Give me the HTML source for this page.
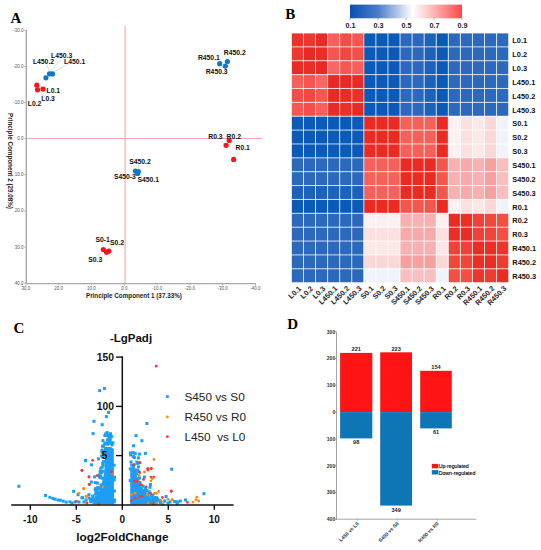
<!DOCTYPE html>
<html><head><meta charset="utf-8"><style>
html,body{margin:0;padding:0;background:#fff;}
svg{display:block;}
</style></head><body>
<svg width="541" height="550" viewBox="0 0 541 550">
<rect width="541" height="550" fill="#fff"/>
<text x="10.5" y="23" font-family="Liberation Serif, serif" font-weight="bold" font-size="15" fill="#000">A</text>
<line x1="26" y1="138.5" x2="262.6" y2="138.5" stroke="#f5a5b2" stroke-width="1.1"/>
<line x1="125.1" y1="26" x2="125.1" y2="283.6" stroke="#f5a5b2" stroke-width="1.1"/>
<line x1="26.3" y1="30" x2="26.3" y2="284" stroke="#a8a8a8" stroke-width="1.4"/>
<line x1="26" y1="283.6" x2="256" y2="283.6" stroke="#a8a8a8" stroke-width="1.4"/>
<line x1="24" y1="30.4" x2="26.2" y2="30.4" stroke="#999" stroke-width="0.6"/>
<text x="23.5" y="31.9" font-family="Liberation Sans, sans-serif" font-size="4.5" fill="#555" text-anchor="end">-30.0</text>
<line x1="24" y1="66.5" x2="26.2" y2="66.5" stroke="#999" stroke-width="0.6"/>
<text x="23.5" y="68.0" font-family="Liberation Sans, sans-serif" font-size="4.5" fill="#555" text-anchor="end">-20.0</text>
<line x1="24" y1="102.6" x2="26.2" y2="102.6" stroke="#999" stroke-width="0.6"/>
<text x="23.5" y="104.1" font-family="Liberation Sans, sans-serif" font-size="4.5" fill="#555" text-anchor="end">-10.0</text>
<line x1="24" y1="138.7" x2="26.2" y2="138.7" stroke="#999" stroke-width="0.6"/>
<text x="23.5" y="140.2" font-family="Liberation Sans, sans-serif" font-size="4.5" fill="#555" text-anchor="end">0.0</text>
<line x1="24" y1="174.8" x2="26.2" y2="174.8" stroke="#999" stroke-width="0.6"/>
<text x="23.5" y="176.3" font-family="Liberation Sans, sans-serif" font-size="4.5" fill="#555" text-anchor="end">10.0</text>
<line x1="24" y1="210.9" x2="26.2" y2="210.9" stroke="#999" stroke-width="0.6"/>
<text x="23.5" y="212.4" font-family="Liberation Sans, sans-serif" font-size="4.5" fill="#555" text-anchor="end">20.0</text>
<line x1="24" y1="247.0" x2="26.2" y2="247.0" stroke="#999" stroke-width="0.6"/>
<text x="23.5" y="248.5" font-family="Liberation Sans, sans-serif" font-size="4.5" fill="#555" text-anchor="end">30.0</text>
<line x1="24" y1="283.1" x2="26.2" y2="283.1" stroke="#999" stroke-width="0.6"/>
<text x="23.5" y="284.6" font-family="Liberation Sans, sans-serif" font-size="4.5" fill="#555" text-anchor="end">40.0</text>
<line x1="25.9" y1="283.6" x2="25.9" y2="285.6" stroke="#999" stroke-width="0.6"/>
<text x="25.9" y="289.6" font-family="Liberation Sans, sans-serif" font-size="4.5" fill="#555" text-anchor="middle">30.0</text>
<line x1="58.7" y1="283.6" x2="58.7" y2="285.6" stroke="#999" stroke-width="0.6"/>
<text x="58.7" y="289.6" font-family="Liberation Sans, sans-serif" font-size="4.5" fill="#555" text-anchor="middle">20.0</text>
<line x1="91.5" y1="283.6" x2="91.5" y2="285.6" stroke="#999" stroke-width="0.6"/>
<text x="91.5" y="289.6" font-family="Liberation Sans, sans-serif" font-size="4.5" fill="#555" text-anchor="middle">10.0</text>
<line x1="124.3" y1="283.6" x2="124.3" y2="285.6" stroke="#999" stroke-width="0.6"/>
<text x="124.3" y="289.6" font-family="Liberation Sans, sans-serif" font-size="4.5" fill="#555" text-anchor="middle">0.0</text>
<line x1="157.1" y1="283.6" x2="157.1" y2="285.6" stroke="#999" stroke-width="0.6"/>
<text x="157.1" y="289.6" font-family="Liberation Sans, sans-serif" font-size="4.5" fill="#555" text-anchor="middle">-10.0</text>
<line x1="189.9" y1="283.6" x2="189.9" y2="285.6" stroke="#999" stroke-width="0.6"/>
<text x="189.9" y="289.6" font-family="Liberation Sans, sans-serif" font-size="4.5" fill="#555" text-anchor="middle">-20.0</text>
<line x1="222.7" y1="283.6" x2="222.7" y2="285.6" stroke="#999" stroke-width="0.6"/>
<text x="222.7" y="289.6" font-family="Liberation Sans, sans-serif" font-size="4.5" fill="#555" text-anchor="middle">-30.0</text>
<line x1="255.5" y1="283.6" x2="255.5" y2="285.6" stroke="#999" stroke-width="0.6"/>
<text x="255.5" y="289.6" font-family="Liberation Sans, sans-serif" font-size="4.5" fill="#555" text-anchor="middle">-40.0</text>
<text x="133.9" y="297.8" font-family="Liberation Sans, sans-serif" font-weight="bold" font-size="6.3" fill="#222" text-anchor="middle">Principle Component 1 (37.33%)</text>
<text transform="translate(7.6,161) rotate(90)" font-family="Liberation Sans, sans-serif" font-weight="bold" font-size="6.3" fill="#222" text-anchor="middle">Principle Component 2 (29.08%)</text>
<line x1="45" y1="60" x2="49.5" y2="72" stroke="#c8d4dc" stroke-width="0.7"/>
<line x1="62" y1="58" x2="50" y2="72" stroke="#c8d4dc" stroke-width="0.7"/>
<line x1="70" y1="63" x2="52" y2="73" stroke="#c8d4dc" stroke-width="0.7"/>
<line x1="48" y1="91" x2="43" y2="89" stroke="#c8d4dc" stroke-width="0.7"/>
<line x1="45" y1="97" x2="38" y2="90" stroke="#c8d4dc" stroke-width="0.7"/>
<line x1="33" y1="101" x2="37" y2="90" stroke="#c8d4dc" stroke-width="0.7"/>
<line x1="215" y1="59" x2="219" y2="63" stroke="#c8d4dc" stroke-width="0.7"/>
<line x1="230" y1="56" x2="227" y2="61" stroke="#c8d4dc" stroke-width="0.7"/>
<line x1="220" y1="68" x2="225" y2="66" stroke="#c8d4dc" stroke-width="0.7"/>
<line x1="220" y1="139" x2="226" y2="145" stroke="#c8d4dc" stroke-width="0.7"/>
<line x1="231" y1="139" x2="229" y2="140" stroke="#c8d4dc" stroke-width="0.7"/>
<line x1="240" y1="150" x2="233.6" y2="159" stroke="#c8d4dc" stroke-width="0.7"/>
<line x1="139" y1="164" x2="138" y2="171" stroke="#c8d4dc" stroke-width="0.7"/>
<line x1="130" y1="176" x2="135" y2="172" stroke="#c8d4dc" stroke-width="0.7"/>
<line x1="142" y1="177" x2="138" y2="173" stroke="#c8d4dc" stroke-width="0.7"/>
<line x1="102" y1="242" x2="104" y2="249" stroke="#c8d4dc" stroke-width="0.7"/>
<line x1="113" y1="245" x2="108" y2="251" stroke="#c8d4dc" stroke-width="0.7"/>
<line x1="97" y1="257" x2="103" y2="251" stroke="#c8d4dc" stroke-width="0.7"/>
<circle cx="45.9" cy="77.8" r="2.6" fill="#0e78c6"/>
<circle cx="49.5" cy="73.8" r="2.6" fill="#0e78c6"/>
<circle cx="52.5" cy="73.9" r="2.6" fill="#0e78c6"/>
<circle cx="36.8" cy="85.2" r="2.6" fill="#f8141a"/>
<circle cx="37.5" cy="89.8" r="2.6" fill="#f8141a"/>
<circle cx="43" cy="89.1" r="2.6" fill="#f8141a"/>
<circle cx="219.7" cy="63.7" r="2.6" fill="#0e78c6"/>
<circle cx="227.4" cy="61.5" r="2.6" fill="#0e78c6"/>
<circle cx="225.4" cy="66.1" r="2.6" fill="#0e78c6"/>
<circle cx="229.2" cy="140.5" r="2.6" fill="#f8141a"/>
<circle cx="226.1" cy="145.3" r="2.6" fill="#f8141a"/>
<circle cx="233.6" cy="159.4" r="2.6" fill="#f8141a"/>
<circle cx="135.5" cy="171.1" r="2.6" fill="#0e78c6"/>
<circle cx="138.3" cy="171.6" r="2.6" fill="#0e78c6"/>
<circle cx="137.7" cy="173.4" r="2.6" fill="#0e78c6"/>
<circle cx="103.3" cy="249.6" r="2.6" fill="#f8141a"/>
<circle cx="106.6" cy="252.2" r="2.6" fill="#f8141a"/>
<circle cx="108.8" cy="251.1" r="2.6" fill="#f8141a"/>
<text x="32.9" y="64.2" font-family="Liberation Sans, sans-serif" font-weight="bold" font-size="6.8" fill="#111">L450.2</text>
<text x="51" y="58.4" font-family="Liberation Sans, sans-serif" font-weight="bold" font-size="6.8" fill="#111">L450.3</text>
<text x="64" y="64" font-family="Liberation Sans, sans-serif" font-weight="bold" font-size="6.8" fill="#111">L450.1</text>
<text x="46.5" y="93.3" font-family="Liberation Sans, sans-serif" font-weight="bold" font-size="6.8" fill="#111">L0.1</text>
<text x="41.3" y="101.1" font-family="Liberation Sans, sans-serif" font-weight="bold" font-size="6.8" fill="#111">L0.3</text>
<text x="27.8" y="106.3" font-family="Liberation Sans, sans-serif" font-weight="bold" font-size="6.8" fill="#111">L0.2</text>
<text x="197.9" y="59.6" font-family="Liberation Sans, sans-serif" font-weight="bold" font-size="6.8" fill="#111">R450.1</text>
<text x="223.8" y="55.1" font-family="Liberation Sans, sans-serif" font-weight="bold" font-size="6.8" fill="#111">R450.2</text>
<text x="205.7" y="73.8" font-family="Liberation Sans, sans-serif" font-weight="bold" font-size="6.8" fill="#111">R450.3</text>
<text x="208.3" y="139.4" font-family="Liberation Sans, sans-serif" font-weight="bold" font-size="6.8" fill="#111">R0.3</text>
<text x="226.6" y="139" font-family="Liberation Sans, sans-serif" font-weight="bold" font-size="6.8" fill="#111">R0.2</text>
<text x="235.5" y="149.7" font-family="Liberation Sans, sans-serif" font-weight="bold" font-size="6.8" fill="#111">R0.1</text>
<text x="129.2" y="164.1" font-family="Liberation Sans, sans-serif" font-weight="bold" font-size="6.8" fill="#111">S450.2</text>
<text x="113.9" y="179.4" font-family="Liberation Sans, sans-serif" font-weight="bold" font-size="6.8" fill="#111">S450-3</text>
<text x="137.4" y="181.6" font-family="Liberation Sans, sans-serif" font-weight="bold" font-size="6.8" fill="#111">S450.1</text>
<text x="95.5" y="241.6" font-family="Liberation Sans, sans-serif" font-weight="bold" font-size="6.8" fill="#111">S0-1</text>
<text x="110" y="245.2" font-family="Liberation Sans, sans-serif" font-weight="bold" font-size="6.8" fill="#111">S0.2</text>
<text x="88.3" y="262.2" font-family="Liberation Sans, sans-serif" font-weight="bold" font-size="6.8" fill="#111">S0.3</text>
<text x="285.3" y="19" font-family="Liberation Serif, serif" font-weight="bold" font-size="15" fill="#000">B</text>
<defs><linearGradient id="cb" x1="0" x2="1" y1="0" y2="0"><stop offset="0" stop-color="#0a4fb8"/><stop offset="0.25" stop-color="#4b7cc8"/><stop offset="0.5" stop-color="#dfe6f4"/><stop offset="0.56" stop-color="#ffffff"/><stop offset="0.75" stop-color="#fdb4b4"/><stop offset="1" stop-color="#ff4747"/></linearGradient></defs>
<rect x="350" y="4.6" width="112" height="13.7" fill="url(#cb)"/>
<line x1="350" y1="18.3" x2="350" y2="20.2" stroke="#777" stroke-width="0.6"/>
<text x="350.5" y="28.1" font-family="Liberation Sans, sans-serif" font-weight="bold" font-size="7.2" fill="#222" text-anchor="middle">0.1</text>
<line x1="378" y1="18.3" x2="378" y2="20.2" stroke="#777" stroke-width="0.6"/>
<text x="378.5" y="28.1" font-family="Liberation Sans, sans-serif" font-weight="bold" font-size="7.2" fill="#222" text-anchor="middle">0.3</text>
<line x1="406" y1="18.3" x2="406" y2="20.2" stroke="#777" stroke-width="0.6"/>
<text x="406.5" y="28.1" font-family="Liberation Sans, sans-serif" font-weight="bold" font-size="7.2" fill="#222" text-anchor="middle">0.5</text>
<line x1="434" y1="18.3" x2="434" y2="20.2" stroke="#777" stroke-width="0.6"/>
<text x="434.5" y="28.1" font-family="Liberation Sans, sans-serif" font-weight="bold" font-size="7.2" fill="#222" text-anchor="middle">0.7</text>
<line x1="462" y1="18.3" x2="462" y2="20.2" stroke="#777" stroke-width="0.6"/>
<text x="462.5" y="28.1" font-family="Liberation Sans, sans-serif" font-weight="bold" font-size="7.2" fill="#222" text-anchor="middle">0.9</text>
<rect x="291.4" y="33.0" width="217.26" height="249.66" fill="#fff"/>
<rect x="291.40" y="33.00" width="12.12" height="13.92" fill="#ec322a"/>
<rect x="303.47" y="33.00" width="12.12" height="13.92" fill="#ed3733"/>
<rect x="315.54" y="33.00" width="12.12" height="13.92" fill="#e92b27"/>
<rect x="327.61" y="33.00" width="12.12" height="13.92" fill="#f65f5b"/>
<rect x="339.68" y="33.00" width="12.12" height="13.92" fill="#f34d49"/>
<rect x="351.75" y="33.00" width="12.12" height="13.92" fill="#f55753"/>
<rect x="363.82" y="33.00" width="12.12" height="13.92" fill="#0b5ab8"/>
<rect x="375.89" y="33.00" width="12.12" height="13.92" fill="#0b5ab8"/>
<rect x="387.96" y="33.00" width="12.12" height="13.92" fill="#0b5ab8"/>
<rect x="400.03" y="33.00" width="12.12" height="13.92" fill="#2c69bc"/>
<rect x="412.10" y="33.00" width="12.12" height="13.92" fill="#2c69bc"/>
<rect x="424.17" y="33.00" width="12.12" height="13.92" fill="#1c61ba"/>
<rect x="436.24" y="33.00" width="12.12" height="13.92" fill="#0b5ab8"/>
<rect x="448.31" y="33.00" width="12.12" height="13.92" fill="#2c69bc"/>
<rect x="460.38" y="33.00" width="12.12" height="13.92" fill="#2c69bc"/>
<rect x="472.45" y="33.00" width="12.12" height="13.92" fill="#2c69bc"/>
<rect x="484.52" y="33.00" width="12.12" height="13.92" fill="#2c69bc"/>
<rect x="496.59" y="33.00" width="12.12" height="13.92" fill="#2c69bc"/>
<rect x="291.40" y="46.87" width="12.12" height="13.92" fill="#ed3733"/>
<rect x="303.47" y="46.87" width="12.12" height="13.92" fill="#e92923"/>
<rect x="315.54" y="46.87" width="12.12" height="13.92" fill="#ea2d29"/>
<rect x="327.61" y="46.87" width="12.12" height="13.92" fill="#f55450"/>
<rect x="339.68" y="46.87" width="12.12" height="13.92" fill="#f14743"/>
<rect x="351.75" y="46.87" width="12.12" height="13.92" fill="#f34e4a"/>
<rect x="363.82" y="46.87" width="12.12" height="13.92" fill="#0b5ab8"/>
<rect x="375.89" y="46.87" width="12.12" height="13.92" fill="#0b5ab8"/>
<rect x="387.96" y="46.87" width="12.12" height="13.92" fill="#0b5ab8"/>
<rect x="400.03" y="46.87" width="12.12" height="13.92" fill="#2c69bc"/>
<rect x="412.10" y="46.87" width="12.12" height="13.92" fill="#2c69bc"/>
<rect x="424.17" y="46.87" width="12.12" height="13.92" fill="#1c61ba"/>
<rect x="436.24" y="46.87" width="12.12" height="13.92" fill="#0b5ab8"/>
<rect x="448.31" y="46.87" width="12.12" height="13.92" fill="#2c69bc"/>
<rect x="460.38" y="46.87" width="12.12" height="13.92" fill="#2c69bc"/>
<rect x="472.45" y="46.87" width="12.12" height="13.92" fill="#2c69bc"/>
<rect x="484.52" y="46.87" width="12.12" height="13.92" fill="#2c69bc"/>
<rect x="496.59" y="46.87" width="12.12" height="13.92" fill="#2c69bc"/>
<rect x="291.40" y="60.74" width="12.12" height="13.92" fill="#e92b27"/>
<rect x="303.47" y="60.74" width="12.12" height="13.92" fill="#ea2d29"/>
<rect x="315.54" y="60.74" width="12.12" height="13.92" fill="#e92923"/>
<rect x="327.61" y="60.74" width="12.12" height="13.92" fill="#f86763"/>
<rect x="339.68" y="60.74" width="12.12" height="13.92" fill="#f55753"/>
<rect x="351.75" y="60.74" width="12.12" height="13.92" fill="#f65f5b"/>
<rect x="363.82" y="60.74" width="12.12" height="13.92" fill="#0b5ab8"/>
<rect x="375.89" y="60.74" width="12.12" height="13.92" fill="#0b5ab8"/>
<rect x="387.96" y="60.74" width="12.12" height="13.92" fill="#0b5ab8"/>
<rect x="400.03" y="60.74" width="12.12" height="13.92" fill="#2c69bc"/>
<rect x="412.10" y="60.74" width="12.12" height="13.92" fill="#2c69bc"/>
<rect x="424.17" y="60.74" width="12.12" height="13.92" fill="#1c61ba"/>
<rect x="436.24" y="60.74" width="12.12" height="13.92" fill="#0b5ab8"/>
<rect x="448.31" y="60.74" width="12.12" height="13.92" fill="#2c69bc"/>
<rect x="460.38" y="60.74" width="12.12" height="13.92" fill="#2c69bc"/>
<rect x="472.45" y="60.74" width="12.12" height="13.92" fill="#2c69bc"/>
<rect x="484.52" y="60.74" width="12.12" height="13.92" fill="#2c69bc"/>
<rect x="496.59" y="60.74" width="12.12" height="13.92" fill="#2c69bc"/>
<rect x="291.40" y="74.61" width="12.12" height="13.92" fill="#f65f5b"/>
<rect x="303.47" y="74.61" width="12.12" height="13.92" fill="#f55450"/>
<rect x="315.54" y="74.61" width="12.12" height="13.92" fill="#f86763"/>
<rect x="327.61" y="74.61" width="12.12" height="13.92" fill="#e92923"/>
<rect x="339.68" y="74.61" width="12.12" height="13.92" fill="#e92925"/>
<rect x="351.75" y="74.61" width="12.12" height="13.92" fill="#e92b27"/>
<rect x="363.82" y="74.61" width="12.12" height="13.92" fill="#0b5ab8"/>
<rect x="375.89" y="74.61" width="12.12" height="13.92" fill="#0b5ab8"/>
<rect x="387.96" y="74.61" width="12.12" height="13.92" fill="#0b5ab8"/>
<rect x="400.03" y="74.61" width="12.12" height="13.92" fill="#2c69bc"/>
<rect x="412.10" y="74.61" width="12.12" height="13.92" fill="#2c69bc"/>
<rect x="424.17" y="74.61" width="12.12" height="13.92" fill="#1c61ba"/>
<rect x="436.24" y="74.61" width="12.12" height="13.92" fill="#0b5ab8"/>
<rect x="448.31" y="74.61" width="12.12" height="13.92" fill="#2c69bc"/>
<rect x="460.38" y="74.61" width="12.12" height="13.92" fill="#2c69bc"/>
<rect x="472.45" y="74.61" width="12.12" height="13.92" fill="#2c69bc"/>
<rect x="484.52" y="74.61" width="12.12" height="13.92" fill="#2c69bc"/>
<rect x="496.59" y="74.61" width="12.12" height="13.92" fill="#2c69bc"/>
<rect x="291.40" y="88.48" width="12.12" height="13.92" fill="#f34d49"/>
<rect x="303.47" y="88.48" width="12.12" height="13.92" fill="#f14743"/>
<rect x="315.54" y="88.48" width="12.12" height="13.92" fill="#f55753"/>
<rect x="327.61" y="88.48" width="12.12" height="13.92" fill="#e92925"/>
<rect x="339.68" y="88.48" width="12.12" height="13.92" fill="#ea2b27"/>
<rect x="351.75" y="88.48" width="12.12" height="13.92" fill="#eb2f2b"/>
<rect x="363.82" y="88.48" width="12.12" height="13.92" fill="#0b5ab8"/>
<rect x="375.89" y="88.48" width="12.12" height="13.92" fill="#0b5ab8"/>
<rect x="387.96" y="88.48" width="12.12" height="13.92" fill="#0b5ab8"/>
<rect x="400.03" y="88.48" width="12.12" height="13.92" fill="#2c69bc"/>
<rect x="412.10" y="88.48" width="12.12" height="13.92" fill="#2c69bc"/>
<rect x="424.17" y="88.48" width="12.12" height="13.92" fill="#1c61ba"/>
<rect x="436.24" y="88.48" width="12.12" height="13.92" fill="#0b5ab8"/>
<rect x="448.31" y="88.48" width="12.12" height="13.92" fill="#2c69bc"/>
<rect x="460.38" y="88.48" width="12.12" height="13.92" fill="#2c69bc"/>
<rect x="472.45" y="88.48" width="12.12" height="13.92" fill="#2c69bc"/>
<rect x="484.52" y="88.48" width="12.12" height="13.92" fill="#2c69bc"/>
<rect x="496.59" y="88.48" width="12.12" height="13.92" fill="#2c69bc"/>
<rect x="291.40" y="102.35" width="12.12" height="13.92" fill="#f55753"/>
<rect x="303.47" y="102.35" width="12.12" height="13.92" fill="#f34e4a"/>
<rect x="315.54" y="102.35" width="12.12" height="13.92" fill="#f65f5b"/>
<rect x="327.61" y="102.35" width="12.12" height="13.92" fill="#e92b27"/>
<rect x="339.68" y="102.35" width="12.12" height="13.92" fill="#eb2f2b"/>
<rect x="351.75" y="102.35" width="12.12" height="13.92" fill="#e92923"/>
<rect x="363.82" y="102.35" width="12.12" height="13.92" fill="#0b5ab8"/>
<rect x="375.89" y="102.35" width="12.12" height="13.92" fill="#0b5ab8"/>
<rect x="387.96" y="102.35" width="12.12" height="13.92" fill="#0b5ab8"/>
<rect x="400.03" y="102.35" width="12.12" height="13.92" fill="#2c69bc"/>
<rect x="412.10" y="102.35" width="12.12" height="13.92" fill="#2c69bc"/>
<rect x="424.17" y="102.35" width="12.12" height="13.92" fill="#1c61ba"/>
<rect x="436.24" y="102.35" width="12.12" height="13.92" fill="#0b5ab8"/>
<rect x="448.31" y="102.35" width="12.12" height="13.92" fill="#2c69bc"/>
<rect x="460.38" y="102.35" width="12.12" height="13.92" fill="#2c69bc"/>
<rect x="472.45" y="102.35" width="12.12" height="13.92" fill="#2c69bc"/>
<rect x="484.52" y="102.35" width="12.12" height="13.92" fill="#2c69bc"/>
<rect x="496.59" y="102.35" width="12.12" height="13.92" fill="#2c69bc"/>
<rect x="291.40" y="116.22" width="12.12" height="13.92" fill="#0b5ab8"/>
<rect x="303.47" y="116.22" width="12.12" height="13.92" fill="#0b5ab8"/>
<rect x="315.54" y="116.22" width="12.12" height="13.92" fill="#0b5ab8"/>
<rect x="327.61" y="116.22" width="12.12" height="13.92" fill="#0b5ab8"/>
<rect x="339.68" y="116.22" width="12.12" height="13.92" fill="#0b5ab8"/>
<rect x="351.75" y="116.22" width="12.12" height="13.92" fill="#0b5ab8"/>
<rect x="363.82" y="116.22" width="12.12" height="13.92" fill="#eb2a22"/>
<rect x="375.89" y="116.22" width="12.12" height="13.92" fill="#eb2a22"/>
<rect x="387.96" y="116.22" width="12.12" height="13.92" fill="#eb2a22"/>
<rect x="400.03" y="116.22" width="12.12" height="13.92" fill="#f56158"/>
<rect x="412.10" y="116.22" width="12.12" height="13.92" fill="#f56158"/>
<rect x="424.17" y="116.22" width="12.12" height="13.92" fill="#f56158"/>
<rect x="436.24" y="116.22" width="12.12" height="13.92" fill="#eb2a22"/>
<rect x="448.31" y="116.22" width="12.12" height="13.92" fill="#fdf0f0"/>
<rect x="460.38" y="116.22" width="12.12" height="13.92" fill="#fce0e0"/>
<rect x="472.45" y="116.22" width="12.12" height="13.92" fill="#fde8e8"/>
<rect x="484.52" y="116.22" width="12.12" height="13.92" fill="#fbd8d8"/>
<rect x="496.59" y="116.22" width="12.12" height="13.92" fill="#f0f4fa"/>
<rect x="291.40" y="130.09" width="12.12" height="13.92" fill="#0b5ab8"/>
<rect x="303.47" y="130.09" width="12.12" height="13.92" fill="#0b5ab8"/>
<rect x="315.54" y="130.09" width="12.12" height="13.92" fill="#0b5ab8"/>
<rect x="327.61" y="130.09" width="12.12" height="13.92" fill="#0b5ab8"/>
<rect x="339.68" y="130.09" width="12.12" height="13.92" fill="#0b5ab8"/>
<rect x="351.75" y="130.09" width="12.12" height="13.92" fill="#0b5ab8"/>
<rect x="363.82" y="130.09" width="12.12" height="13.92" fill="#eb2a22"/>
<rect x="375.89" y="130.09" width="12.12" height="13.92" fill="#eb2a22"/>
<rect x="387.96" y="130.09" width="12.12" height="13.92" fill="#eb2a22"/>
<rect x="400.03" y="130.09" width="12.12" height="13.92" fill="#f56158"/>
<rect x="412.10" y="130.09" width="12.12" height="13.92" fill="#f56158"/>
<rect x="424.17" y="130.09" width="12.12" height="13.92" fill="#f56158"/>
<rect x="436.24" y="130.09" width="12.12" height="13.92" fill="#eb2a22"/>
<rect x="448.31" y="130.09" width="12.12" height="13.92" fill="#fdf0f0"/>
<rect x="460.38" y="130.09" width="12.12" height="13.92" fill="#fce0e0"/>
<rect x="472.45" y="130.09" width="12.12" height="13.92" fill="#fde8e8"/>
<rect x="484.52" y="130.09" width="12.12" height="13.92" fill="#fbd8d8"/>
<rect x="496.59" y="130.09" width="12.12" height="13.92" fill="#f0f4fa"/>
<rect x="291.40" y="143.96" width="12.12" height="13.92" fill="#0b5ab8"/>
<rect x="303.47" y="143.96" width="12.12" height="13.92" fill="#0b5ab8"/>
<rect x="315.54" y="143.96" width="12.12" height="13.92" fill="#0b5ab8"/>
<rect x="327.61" y="143.96" width="12.12" height="13.92" fill="#0b5ab8"/>
<rect x="339.68" y="143.96" width="12.12" height="13.92" fill="#0b5ab8"/>
<rect x="351.75" y="143.96" width="12.12" height="13.92" fill="#0b5ab8"/>
<rect x="363.82" y="143.96" width="12.12" height="13.92" fill="#eb2a22"/>
<rect x="375.89" y="143.96" width="12.12" height="13.92" fill="#eb2a22"/>
<rect x="387.96" y="143.96" width="12.12" height="13.92" fill="#eb2a22"/>
<rect x="400.03" y="143.96" width="12.12" height="13.92" fill="#f56158"/>
<rect x="412.10" y="143.96" width="12.12" height="13.92" fill="#f56158"/>
<rect x="424.17" y="143.96" width="12.12" height="13.92" fill="#f56158"/>
<rect x="436.24" y="143.96" width="12.12" height="13.92" fill="#eb2a22"/>
<rect x="448.31" y="143.96" width="12.12" height="13.92" fill="#fdf0f0"/>
<rect x="460.38" y="143.96" width="12.12" height="13.92" fill="#fce0e0"/>
<rect x="472.45" y="143.96" width="12.12" height="13.92" fill="#fde8e8"/>
<rect x="484.52" y="143.96" width="12.12" height="13.92" fill="#fbd8d8"/>
<rect x="496.59" y="143.96" width="12.12" height="13.92" fill="#f0f4fa"/>
<rect x="291.40" y="157.83" width="12.12" height="13.92" fill="#2c69bc"/>
<rect x="303.47" y="157.83" width="12.12" height="13.92" fill="#2c69bc"/>
<rect x="315.54" y="157.83" width="12.12" height="13.92" fill="#2c69bc"/>
<rect x="327.61" y="157.83" width="12.12" height="13.92" fill="#2c69bc"/>
<rect x="339.68" y="157.83" width="12.12" height="13.92" fill="#2c69bc"/>
<rect x="351.75" y="157.83" width="12.12" height="13.92" fill="#2c69bc"/>
<rect x="363.82" y="157.83" width="12.12" height="13.92" fill="#f56158"/>
<rect x="375.89" y="157.83" width="12.12" height="13.92" fill="#f56158"/>
<rect x="387.96" y="157.83" width="12.12" height="13.92" fill="#f56158"/>
<rect x="400.03" y="157.83" width="12.12" height="13.92" fill="#eb2a22"/>
<rect x="412.10" y="157.83" width="12.12" height="13.92" fill="#eb2a22"/>
<rect x="424.17" y="157.83" width="12.12" height="13.92" fill="#eb2a22"/>
<rect x="436.24" y="157.83" width="12.12" height="13.92" fill="#f3574b"/>
<rect x="448.31" y="157.83" width="12.12" height="13.92" fill="#f8b0b0"/>
<rect x="460.38" y="157.83" width="12.12" height="13.92" fill="#f8a9a9"/>
<rect x="472.45" y="157.83" width="12.12" height="13.92" fill="#f8b0b0"/>
<rect x="484.52" y="157.83" width="12.12" height="13.92" fill="#f7a0a0"/>
<rect x="496.59" y="157.83" width="12.12" height="13.92" fill="#f9bfbf"/>
<rect x="291.40" y="171.70" width="12.12" height="13.92" fill="#2c69bc"/>
<rect x="303.47" y="171.70" width="12.12" height="13.92" fill="#2c69bc"/>
<rect x="315.54" y="171.70" width="12.12" height="13.92" fill="#2c69bc"/>
<rect x="327.61" y="171.70" width="12.12" height="13.92" fill="#2c69bc"/>
<rect x="339.68" y="171.70" width="12.12" height="13.92" fill="#2c69bc"/>
<rect x="351.75" y="171.70" width="12.12" height="13.92" fill="#2c69bc"/>
<rect x="363.82" y="171.70" width="12.12" height="13.92" fill="#f56158"/>
<rect x="375.89" y="171.70" width="12.12" height="13.92" fill="#f56158"/>
<rect x="387.96" y="171.70" width="12.12" height="13.92" fill="#f56158"/>
<rect x="400.03" y="171.70" width="12.12" height="13.92" fill="#eb2a22"/>
<rect x="412.10" y="171.70" width="12.12" height="13.92" fill="#eb2a22"/>
<rect x="424.17" y="171.70" width="12.12" height="13.92" fill="#eb2a22"/>
<rect x="436.24" y="171.70" width="12.12" height="13.92" fill="#f3574b"/>
<rect x="448.31" y="171.70" width="12.12" height="13.92" fill="#f8b0b0"/>
<rect x="460.38" y="171.70" width="12.12" height="13.92" fill="#f8a9a9"/>
<rect x="472.45" y="171.70" width="12.12" height="13.92" fill="#f8b0b0"/>
<rect x="484.52" y="171.70" width="12.12" height="13.92" fill="#f7a0a0"/>
<rect x="496.59" y="171.70" width="12.12" height="13.92" fill="#f9bfbf"/>
<rect x="291.40" y="185.57" width="12.12" height="13.92" fill="#1c61ba"/>
<rect x="303.47" y="185.57" width="12.12" height="13.92" fill="#1c61ba"/>
<rect x="315.54" y="185.57" width="12.12" height="13.92" fill="#1c61ba"/>
<rect x="327.61" y="185.57" width="12.12" height="13.92" fill="#1c61ba"/>
<rect x="339.68" y="185.57" width="12.12" height="13.92" fill="#1c61ba"/>
<rect x="351.75" y="185.57" width="12.12" height="13.92" fill="#1c61ba"/>
<rect x="363.82" y="185.57" width="12.12" height="13.92" fill="#f56158"/>
<rect x="375.89" y="185.57" width="12.12" height="13.92" fill="#f56158"/>
<rect x="387.96" y="185.57" width="12.12" height="13.92" fill="#f56158"/>
<rect x="400.03" y="185.57" width="12.12" height="13.92" fill="#eb2a22"/>
<rect x="412.10" y="185.57" width="12.12" height="13.92" fill="#eb2a22"/>
<rect x="424.17" y="185.57" width="12.12" height="13.92" fill="#eb2a22"/>
<rect x="436.24" y="185.57" width="12.12" height="13.92" fill="#f3574b"/>
<rect x="448.31" y="185.57" width="12.12" height="13.92" fill="#f8b0b0"/>
<rect x="460.38" y="185.57" width="12.12" height="13.92" fill="#f8a9a9"/>
<rect x="472.45" y="185.57" width="12.12" height="13.92" fill="#f8b0b0"/>
<rect x="484.52" y="185.57" width="12.12" height="13.92" fill="#f7a0a0"/>
<rect x="496.59" y="185.57" width="12.12" height="13.92" fill="#f9bfbf"/>
<rect x="291.40" y="199.44" width="12.12" height="13.92" fill="#0b5ab8"/>
<rect x="303.47" y="199.44" width="12.12" height="13.92" fill="#0b5ab8"/>
<rect x="315.54" y="199.44" width="12.12" height="13.92" fill="#0b5ab8"/>
<rect x="327.61" y="199.44" width="12.12" height="13.92" fill="#0b5ab8"/>
<rect x="339.68" y="199.44" width="12.12" height="13.92" fill="#0b5ab8"/>
<rect x="351.75" y="199.44" width="12.12" height="13.92" fill="#0b5ab8"/>
<rect x="363.82" y="199.44" width="12.12" height="13.92" fill="#eb2a22"/>
<rect x="375.89" y="199.44" width="12.12" height="13.92" fill="#eb2a22"/>
<rect x="387.96" y="199.44" width="12.12" height="13.92" fill="#eb2a22"/>
<rect x="400.03" y="199.44" width="12.12" height="13.92" fill="#f3574b"/>
<rect x="412.10" y="199.44" width="12.12" height="13.92" fill="#f3574b"/>
<rect x="424.17" y="199.44" width="12.12" height="13.92" fill="#f3574b"/>
<rect x="436.24" y="199.44" width="12.12" height="13.92" fill="#eb2a22"/>
<rect x="448.31" y="199.44" width="12.12" height="13.92" fill="#fdf0f0"/>
<rect x="460.38" y="199.44" width="12.12" height="13.92" fill="#fce0e0"/>
<rect x="472.45" y="199.44" width="12.12" height="13.92" fill="#fde8e8"/>
<rect x="484.52" y="199.44" width="12.12" height="13.92" fill="#fbd8d8"/>
<rect x="496.59" y="199.44" width="12.12" height="13.92" fill="#f0f4fa"/>
<rect x="291.40" y="213.31" width="12.12" height="13.92" fill="#2c69bc"/>
<rect x="303.47" y="213.31" width="12.12" height="13.92" fill="#2c69bc"/>
<rect x="315.54" y="213.31" width="12.12" height="13.92" fill="#2c69bc"/>
<rect x="327.61" y="213.31" width="12.12" height="13.92" fill="#2c69bc"/>
<rect x="339.68" y="213.31" width="12.12" height="13.92" fill="#2c69bc"/>
<rect x="351.75" y="213.31" width="12.12" height="13.92" fill="#2c69bc"/>
<rect x="363.82" y="213.31" width="12.12" height="13.92" fill="#fdf0f0"/>
<rect x="375.89" y="213.31" width="12.12" height="13.92" fill="#fdf0f0"/>
<rect x="387.96" y="213.31" width="12.12" height="13.92" fill="#fdf0f0"/>
<rect x="400.03" y="213.31" width="12.12" height="13.92" fill="#f8b0b0"/>
<rect x="412.10" y="213.31" width="12.12" height="13.92" fill="#f8b0b0"/>
<rect x="424.17" y="213.31" width="12.12" height="13.92" fill="#f8b0b0"/>
<rect x="436.24" y="213.31" width="12.12" height="13.92" fill="#fdf0f0"/>
<rect x="448.31" y="213.31" width="12.12" height="13.92" fill="#ea2c23"/>
<rect x="460.38" y="213.31" width="12.12" height="13.92" fill="#eb2f25"/>
<rect x="472.45" y="213.31" width="12.12" height="13.92" fill="#f04138"/>
<rect x="484.52" y="213.31" width="12.12" height="13.92" fill="#f1473b"/>
<rect x="496.59" y="213.31" width="12.12" height="13.92" fill="#f34f43"/>
<rect x="291.40" y="227.18" width="12.12" height="13.92" fill="#2c69bc"/>
<rect x="303.47" y="227.18" width="12.12" height="13.92" fill="#2c69bc"/>
<rect x="315.54" y="227.18" width="12.12" height="13.92" fill="#2c69bc"/>
<rect x="327.61" y="227.18" width="12.12" height="13.92" fill="#2c69bc"/>
<rect x="339.68" y="227.18" width="12.12" height="13.92" fill="#2c69bc"/>
<rect x="351.75" y="227.18" width="12.12" height="13.92" fill="#2c69bc"/>
<rect x="363.82" y="227.18" width="12.12" height="13.92" fill="#fce0e0"/>
<rect x="375.89" y="227.18" width="12.12" height="13.92" fill="#fce0e0"/>
<rect x="387.96" y="227.18" width="12.12" height="13.92" fill="#fce0e0"/>
<rect x="400.03" y="227.18" width="12.12" height="13.92" fill="#f8a9a9"/>
<rect x="412.10" y="227.18" width="12.12" height="13.92" fill="#f8a9a9"/>
<rect x="424.17" y="227.18" width="12.12" height="13.92" fill="#f8a9a9"/>
<rect x="436.24" y="227.18" width="12.12" height="13.92" fill="#fce0e0"/>
<rect x="448.31" y="227.18" width="12.12" height="13.92" fill="#eb2f25"/>
<rect x="460.38" y="227.18" width="12.12" height="13.92" fill="#ea2c23"/>
<rect x="472.45" y="227.18" width="12.12" height="13.92" fill="#f04138"/>
<rect x="484.52" y="227.18" width="12.12" height="13.92" fill="#f1453b"/>
<rect x="496.59" y="227.18" width="12.12" height="13.92" fill="#f34f43"/>
<rect x="291.40" y="241.05" width="12.12" height="13.92" fill="#2c69bc"/>
<rect x="303.47" y="241.05" width="12.12" height="13.92" fill="#2c69bc"/>
<rect x="315.54" y="241.05" width="12.12" height="13.92" fill="#2c69bc"/>
<rect x="327.61" y="241.05" width="12.12" height="13.92" fill="#2c69bc"/>
<rect x="339.68" y="241.05" width="12.12" height="13.92" fill="#2c69bc"/>
<rect x="351.75" y="241.05" width="12.12" height="13.92" fill="#2c69bc"/>
<rect x="363.82" y="241.05" width="12.12" height="13.92" fill="#fde8e8"/>
<rect x="375.89" y="241.05" width="12.12" height="13.92" fill="#fde8e8"/>
<rect x="387.96" y="241.05" width="12.12" height="13.92" fill="#fde8e8"/>
<rect x="400.03" y="241.05" width="12.12" height="13.92" fill="#f8b0b0"/>
<rect x="412.10" y="241.05" width="12.12" height="13.92" fill="#f8b0b0"/>
<rect x="424.17" y="241.05" width="12.12" height="13.92" fill="#f8b0b0"/>
<rect x="436.24" y="241.05" width="12.12" height="13.92" fill="#fde8e8"/>
<rect x="448.31" y="241.05" width="12.12" height="13.92" fill="#f04138"/>
<rect x="460.38" y="241.05" width="12.12" height="13.92" fill="#f04138"/>
<rect x="472.45" y="241.05" width="12.12" height="13.92" fill="#ea2c23"/>
<rect x="484.52" y="241.05" width="12.12" height="13.92" fill="#eb2f25"/>
<rect x="496.59" y="241.05" width="12.12" height="13.92" fill="#ed352b"/>
<rect x="291.40" y="254.92" width="12.12" height="13.92" fill="#2c69bc"/>
<rect x="303.47" y="254.92" width="12.12" height="13.92" fill="#2c69bc"/>
<rect x="315.54" y="254.92" width="12.12" height="13.92" fill="#2c69bc"/>
<rect x="327.61" y="254.92" width="12.12" height="13.92" fill="#2c69bc"/>
<rect x="339.68" y="254.92" width="12.12" height="13.92" fill="#2c69bc"/>
<rect x="351.75" y="254.92" width="12.12" height="13.92" fill="#2c69bc"/>
<rect x="363.82" y="254.92" width="12.12" height="13.92" fill="#fbd8d8"/>
<rect x="375.89" y="254.92" width="12.12" height="13.92" fill="#fbd8d8"/>
<rect x="387.96" y="254.92" width="12.12" height="13.92" fill="#fbd8d8"/>
<rect x="400.03" y="254.92" width="12.12" height="13.92" fill="#f7a0a0"/>
<rect x="412.10" y="254.92" width="12.12" height="13.92" fill="#f7a0a0"/>
<rect x="424.17" y="254.92" width="12.12" height="13.92" fill="#f7a0a0"/>
<rect x="436.24" y="254.92" width="12.12" height="13.92" fill="#fbd8d8"/>
<rect x="448.31" y="254.92" width="12.12" height="13.92" fill="#f1473b"/>
<rect x="460.38" y="254.92" width="12.12" height="13.92" fill="#f1453b"/>
<rect x="472.45" y="254.92" width="12.12" height="13.92" fill="#eb2f25"/>
<rect x="484.52" y="254.92" width="12.12" height="13.92" fill="#ea2c23"/>
<rect x="496.59" y="254.92" width="12.12" height="13.92" fill="#ee3c33"/>
<rect x="291.40" y="268.79" width="12.12" height="13.92" fill="#2c69bc"/>
<rect x="303.47" y="268.79" width="12.12" height="13.92" fill="#2c69bc"/>
<rect x="315.54" y="268.79" width="12.12" height="13.92" fill="#2c69bc"/>
<rect x="327.61" y="268.79" width="12.12" height="13.92" fill="#2c69bc"/>
<rect x="339.68" y="268.79" width="12.12" height="13.92" fill="#2c69bc"/>
<rect x="351.75" y="268.79" width="12.12" height="13.92" fill="#2c69bc"/>
<rect x="363.82" y="268.79" width="12.12" height="13.92" fill="#f0f4fa"/>
<rect x="375.89" y="268.79" width="12.12" height="13.92" fill="#f0f4fa"/>
<rect x="387.96" y="268.79" width="12.12" height="13.92" fill="#f0f4fa"/>
<rect x="400.03" y="268.79" width="12.12" height="13.92" fill="#f9bfbf"/>
<rect x="412.10" y="268.79" width="12.12" height="13.92" fill="#f9bfbf"/>
<rect x="424.17" y="268.79" width="12.12" height="13.92" fill="#f9bfbf"/>
<rect x="436.24" y="268.79" width="12.12" height="13.92" fill="#f0f4fa"/>
<rect x="448.31" y="268.79" width="12.12" height="13.92" fill="#f34f43"/>
<rect x="460.38" y="268.79" width="12.12" height="13.92" fill="#f34f43"/>
<rect x="472.45" y="268.79" width="12.12" height="13.92" fill="#ed352b"/>
<rect x="484.52" y="268.79" width="12.12" height="13.92" fill="#ee3c33"/>
<rect x="496.59" y="268.79" width="12.12" height="13.92" fill="#ea2c23"/>
<line x1="291.40" y1="32.5" x2="291.40" y2="283.16" stroke="#fff" stroke-opacity="0.85" stroke-width="0.9"/>
<line x1="290.9" y1="33.00" x2="509.16" y2="33.00" stroke="#fff" stroke-opacity="0.85" stroke-width="0.9"/>
<line x1="303.47" y1="32.5" x2="303.47" y2="283.16" stroke="#fff" stroke-opacity="0.85" stroke-width="0.9"/>
<line x1="290.9" y1="46.87" x2="509.16" y2="46.87" stroke="#fff" stroke-opacity="0.85" stroke-width="0.9"/>
<line x1="315.54" y1="32.5" x2="315.54" y2="283.16" stroke="#fff" stroke-opacity="0.85" stroke-width="0.9"/>
<line x1="290.9" y1="60.74" x2="509.16" y2="60.74" stroke="#fff" stroke-opacity="0.85" stroke-width="0.9"/>
<line x1="327.61" y1="32.5" x2="327.61" y2="283.16" stroke="#fff" stroke-opacity="0.85" stroke-width="0.9"/>
<line x1="290.9" y1="74.61" x2="509.16" y2="74.61" stroke="#fff" stroke-opacity="0.85" stroke-width="0.9"/>
<line x1="339.68" y1="32.5" x2="339.68" y2="283.16" stroke="#fff" stroke-opacity="0.85" stroke-width="0.9"/>
<line x1="290.9" y1="88.48" x2="509.16" y2="88.48" stroke="#fff" stroke-opacity="0.85" stroke-width="0.9"/>
<line x1="351.75" y1="32.5" x2="351.75" y2="283.16" stroke="#fff" stroke-opacity="0.85" stroke-width="0.9"/>
<line x1="290.9" y1="102.35" x2="509.16" y2="102.35" stroke="#fff" stroke-opacity="0.85" stroke-width="0.9"/>
<line x1="363.82" y1="32.5" x2="363.82" y2="283.16" stroke="#fff" stroke-opacity="0.85" stroke-width="0.9"/>
<line x1="290.9" y1="116.22" x2="509.16" y2="116.22" stroke="#fff" stroke-opacity="0.85" stroke-width="0.9"/>
<line x1="375.89" y1="32.5" x2="375.89" y2="283.16" stroke="#fff" stroke-opacity="0.85" stroke-width="0.9"/>
<line x1="290.9" y1="130.09" x2="509.16" y2="130.09" stroke="#fff" stroke-opacity="0.85" stroke-width="0.9"/>
<line x1="387.96" y1="32.5" x2="387.96" y2="283.16" stroke="#fff" stroke-opacity="0.85" stroke-width="0.9"/>
<line x1="290.9" y1="143.96" x2="509.16" y2="143.96" stroke="#fff" stroke-opacity="0.85" stroke-width="0.9"/>
<line x1="400.03" y1="32.5" x2="400.03" y2="283.16" stroke="#fff" stroke-opacity="0.85" stroke-width="0.9"/>
<line x1="290.9" y1="157.83" x2="509.16" y2="157.83" stroke="#fff" stroke-opacity="0.85" stroke-width="0.9"/>
<line x1="412.10" y1="32.5" x2="412.10" y2="283.16" stroke="#fff" stroke-opacity="0.85" stroke-width="0.9"/>
<line x1="290.9" y1="171.70" x2="509.16" y2="171.70" stroke="#fff" stroke-opacity="0.85" stroke-width="0.9"/>
<line x1="424.17" y1="32.5" x2="424.17" y2="283.16" stroke="#fff" stroke-opacity="0.85" stroke-width="0.9"/>
<line x1="290.9" y1="185.57" x2="509.16" y2="185.57" stroke="#fff" stroke-opacity="0.85" stroke-width="0.9"/>
<line x1="436.24" y1="32.5" x2="436.24" y2="283.16" stroke="#fff" stroke-opacity="0.85" stroke-width="0.9"/>
<line x1="290.9" y1="199.44" x2="509.16" y2="199.44" stroke="#fff" stroke-opacity="0.85" stroke-width="0.9"/>
<line x1="448.31" y1="32.5" x2="448.31" y2="283.16" stroke="#fff" stroke-opacity="0.85" stroke-width="0.9"/>
<line x1="290.9" y1="213.31" x2="509.16" y2="213.31" stroke="#fff" stroke-opacity="0.85" stroke-width="0.9"/>
<line x1="460.38" y1="32.5" x2="460.38" y2="283.16" stroke="#fff" stroke-opacity="0.85" stroke-width="0.9"/>
<line x1="290.9" y1="227.18" x2="509.16" y2="227.18" stroke="#fff" stroke-opacity="0.85" stroke-width="0.9"/>
<line x1="472.45" y1="32.5" x2="472.45" y2="283.16" stroke="#fff" stroke-opacity="0.85" stroke-width="0.9"/>
<line x1="290.9" y1="241.05" x2="509.16" y2="241.05" stroke="#fff" stroke-opacity="0.85" stroke-width="0.9"/>
<line x1="484.52" y1="32.5" x2="484.52" y2="283.16" stroke="#fff" stroke-opacity="0.85" stroke-width="0.9"/>
<line x1="290.9" y1="254.92" x2="509.16" y2="254.92" stroke="#fff" stroke-opacity="0.85" stroke-width="0.9"/>
<line x1="496.59" y1="32.5" x2="496.59" y2="283.16" stroke="#fff" stroke-opacity="0.85" stroke-width="0.9"/>
<line x1="290.9" y1="268.79" x2="509.16" y2="268.79" stroke="#fff" stroke-opacity="0.85" stroke-width="0.9"/>
<line x1="508.66" y1="32.5" x2="508.66" y2="283.16" stroke="#fff" stroke-opacity="0.85" stroke-width="0.9"/>
<line x1="290.9" y1="282.66" x2="509.16" y2="282.66" stroke="#fff" stroke-opacity="0.85" stroke-width="0.9"/>
<text x="512.3" y="43.1" font-family="Liberation Sans, sans-serif" font-weight="bold" font-size="7.4" fill="#111">L0.1</text>
<text x="512.3" y="57.0" font-family="Liberation Sans, sans-serif" font-weight="bold" font-size="7.4" fill="#111">L0.2</text>
<text x="512.3" y="70.9" font-family="Liberation Sans, sans-serif" font-weight="bold" font-size="7.4" fill="#111">L0.3</text>
<text x="512.3" y="84.7" font-family="Liberation Sans, sans-serif" font-weight="bold" font-size="7.4" fill="#111">L450.1</text>
<text x="512.3" y="98.6" font-family="Liberation Sans, sans-serif" font-weight="bold" font-size="7.4" fill="#111">L450.2</text>
<text x="512.3" y="112.5" font-family="Liberation Sans, sans-serif" font-weight="bold" font-size="7.4" fill="#111">L450.3</text>
<text x="512.3" y="126.4" font-family="Liberation Sans, sans-serif" font-weight="bold" font-size="7.4" fill="#111">S0.1</text>
<text x="512.3" y="140.2" font-family="Liberation Sans, sans-serif" font-weight="bold" font-size="7.4" fill="#111">S0.2</text>
<text x="512.3" y="154.1" font-family="Liberation Sans, sans-serif" font-weight="bold" font-size="7.4" fill="#111">S0.3</text>
<text x="512.3" y="168.0" font-family="Liberation Sans, sans-serif" font-weight="bold" font-size="7.4" fill="#111">S450.1</text>
<text x="512.3" y="181.8" font-family="Liberation Sans, sans-serif" font-weight="bold" font-size="7.4" fill="#111">S450.2</text>
<text x="512.3" y="195.7" font-family="Liberation Sans, sans-serif" font-weight="bold" font-size="7.4" fill="#111">S450.3</text>
<text x="512.3" y="209.6" font-family="Liberation Sans, sans-serif" font-weight="bold" font-size="7.4" fill="#111">R0.1</text>
<text x="512.3" y="223.4" font-family="Liberation Sans, sans-serif" font-weight="bold" font-size="7.4" fill="#111">R0.2</text>
<text x="512.3" y="237.3" font-family="Liberation Sans, sans-serif" font-weight="bold" font-size="7.4" fill="#111">R0.3</text>
<text x="512.3" y="251.2" font-family="Liberation Sans, sans-serif" font-weight="bold" font-size="7.4" fill="#111">R450.1</text>
<text x="512.3" y="265.1" font-family="Liberation Sans, sans-serif" font-weight="bold" font-size="7.4" fill="#111">R450.2</text>
<text x="512.3" y="278.9" font-family="Liberation Sans, sans-serif" font-weight="bold" font-size="7.4" fill="#111">R450.3</text>
<text transform="translate(301.6,289.0) rotate(-45)" font-family="Liberation Sans, sans-serif" font-weight="bold" font-size="7.3" fill="#222" text-anchor="end">L0.1</text>
<text transform="translate(313.7,289.0) rotate(-45)" font-family="Liberation Sans, sans-serif" font-weight="bold" font-size="7.3" fill="#222" text-anchor="end">L0.2</text>
<text transform="translate(325.8,289.0) rotate(-45)" font-family="Liberation Sans, sans-serif" font-weight="bold" font-size="7.3" fill="#222" text-anchor="end">L0.3</text>
<text transform="translate(337.8,289.0) rotate(-45)" font-family="Liberation Sans, sans-serif" font-weight="bold" font-size="7.3" fill="#222" text-anchor="end">L450.1</text>
<text transform="translate(349.9,289.0) rotate(-45)" font-family="Liberation Sans, sans-serif" font-weight="bold" font-size="7.3" fill="#222" text-anchor="end">L450.2</text>
<text transform="translate(362.0,289.0) rotate(-45)" font-family="Liberation Sans, sans-serif" font-weight="bold" font-size="7.3" fill="#222" text-anchor="end">L450.3</text>
<text transform="translate(374.1,289.0) rotate(-45)" font-family="Liberation Sans, sans-serif" font-weight="bold" font-size="7.3" fill="#222" text-anchor="end">S0.1</text>
<text transform="translate(386.1,289.0) rotate(-45)" font-family="Liberation Sans, sans-serif" font-weight="bold" font-size="7.3" fill="#222" text-anchor="end">S0.2</text>
<text transform="translate(398.2,289.0) rotate(-45)" font-family="Liberation Sans, sans-serif" font-weight="bold" font-size="7.3" fill="#222" text-anchor="end">S0.3</text>
<text transform="translate(410.3,289.0) rotate(-45)" font-family="Liberation Sans, sans-serif" font-weight="bold" font-size="7.3" fill="#222" text-anchor="end">S450.1</text>
<text transform="translate(422.3,289.0) rotate(-45)" font-family="Liberation Sans, sans-serif" font-weight="bold" font-size="7.3" fill="#222" text-anchor="end">S450.2</text>
<text transform="translate(434.4,289.0) rotate(-45)" font-family="Liberation Sans, sans-serif" font-weight="bold" font-size="7.3" fill="#222" text-anchor="end">S450.3</text>
<text transform="translate(446.5,289.0) rotate(-45)" font-family="Liberation Sans, sans-serif" font-weight="bold" font-size="7.3" fill="#222" text-anchor="end">R0.1</text>
<text transform="translate(458.5,289.0) rotate(-45)" font-family="Liberation Sans, sans-serif" font-weight="bold" font-size="7.3" fill="#222" text-anchor="end">R0.2</text>
<text transform="translate(470.6,289.0) rotate(-45)" font-family="Liberation Sans, sans-serif" font-weight="bold" font-size="7.3" fill="#222" text-anchor="end">R0.3</text>
<text transform="translate(482.7,289.0) rotate(-45)" font-family="Liberation Sans, sans-serif" font-weight="bold" font-size="7.3" fill="#222" text-anchor="end">R450.1</text>
<text transform="translate(494.8,289.0) rotate(-45)" font-family="Liberation Sans, sans-serif" font-weight="bold" font-size="7.3" fill="#222" text-anchor="end">R450.2</text>
<text transform="translate(506.8,289.0) rotate(-45)" font-family="Liberation Sans, sans-serif" font-weight="bold" font-size="7.3" fill="#222" text-anchor="end">R450.3</text>
<text x="13.5" y="333.2" font-family="Liberation Serif, serif" font-weight="bold" font-size="15" fill="#000">C</text>
<text x="131" y="341.8" font-family="Liberation Sans, sans-serif" font-weight="bold" font-size="11.5" fill="#111" text-anchor="middle">-LgPadj</text>
<line x1="116" y1="357.1" x2="122.3" y2="357.1" stroke="#111" stroke-width="1.4"/>
<text x="114" y="360.7" font-family="Liberation Sans, sans-serif" font-weight="bold" font-size="10.3" fill="#111" text-anchor="end">150</text>
<line x1="116" y1="406.4" x2="122.3" y2="406.4" stroke="#111" stroke-width="1.4"/>
<text x="114" y="410.0" font-family="Liberation Sans, sans-serif" font-weight="bold" font-size="10.3" fill="#111" text-anchor="end">100</text>
<line x1="116" y1="455.6" x2="122.3" y2="455.6" stroke="#111" stroke-width="1.4"/>
<text x="114" y="459.2" font-family="Liberation Sans, sans-serif" font-weight="bold" font-size="10.3" fill="#111" text-anchor="end"></text>
<line x1="30.3" y1="504.9" x2="30.3" y2="509.8" stroke="#111" stroke-width="1.4"/>
<text x="30.3" y="522.8" font-family="Liberation Sans, sans-serif" font-weight="bold" font-size="10" fill="#111" text-anchor="middle">-10</text>
<line x1="76.3" y1="504.9" x2="76.3" y2="509.8" stroke="#111" stroke-width="1.4"/>
<text x="76.3" y="522.8" font-family="Liberation Sans, sans-serif" font-weight="bold" font-size="10" fill="#111" text-anchor="middle">-5</text>
<line x1="122.3" y1="504.9" x2="122.3" y2="509.8" stroke="#111" stroke-width="1.4"/>
<text x="122.3" y="522.8" font-family="Liberation Sans, sans-serif" font-weight="bold" font-size="10" fill="#111" text-anchor="middle">0</text>
<line x1="168.3" y1="504.9" x2="168.3" y2="509.8" stroke="#111" stroke-width="1.4"/>
<text x="168.3" y="522.8" font-family="Liberation Sans, sans-serif" font-weight="bold" font-size="10" fill="#111" text-anchor="middle">5</text>
<line x1="214.3" y1="504.9" x2="214.3" y2="509.8" stroke="#111" stroke-width="1.4"/>
<text x="214.3" y="522.8" font-family="Liberation Sans, sans-serif" font-weight="bold" font-size="10" fill="#111" text-anchor="middle">10</text>
<text x="122.4" y="540.6" font-family="Liberation Sans, sans-serif" font-weight="bold" font-size="11.8" fill="#111" text-anchor="middle">log2FoldChange</text>
<path d="M104,447 L111,447 L113.8,449 L114,504.2 L92,504.2 L98,494 L101,486 L104,474 L105,462 L103.5,452 Z" fill="#1c9ef4"/>
<path d="M130.2,470 L135.5,470 L139,484 L145,491 L152.6,500 L156,504.2 L130.2,504.2 Z" fill="#1c9ef4"/>
<rect x="17.4" y="484.8" width="3" height="3" fill="#1c9ef4"/>
<rect x="44.0" y="494.0" width="3" height="3" fill="#1c9ef4"/>
<rect x="48.4" y="495.8" width="3" height="3" fill="#1c9ef4"/>
<rect x="51.4" y="496.9" width="3" height="3" fill="#1c9ef4"/>
<rect x="53.6" y="497.7" width="3" height="3" fill="#1c9ef4"/>
<rect x="58.8" y="498.7" width="3" height="3" fill="#1c9ef4"/>
<rect x="61.7" y="499.6" width="3" height="3" fill="#1c9ef4"/>
<rect x="64.7" y="500.6" width="3" height="3" fill="#1c9ef4"/>
<rect x="68.4" y="500.3" width="3" height="3" fill="#1c9ef4"/>
<rect x="56.5" y="498.5" width="3" height="3" fill="#1c9ef4"/>
<rect x="72.1" y="489.8" width="3" height="3" fill="#1c9ef4"/>
<rect x="76.5" y="493.2" width="3" height="3" fill="#1c9ef4"/>
<rect x="81.0" y="496.2" width="3" height="3" fill="#1c9ef4"/>
<rect x="83.9" y="459.2" width="3" height="3" fill="#1c9ef4"/>
<rect x="84.2" y="458.8" width="3" height="3" fill="#1c9ef4"/>
<rect x="96.9" y="457.3" width="3" height="3" fill="#1c9ef4"/>
<rect x="89.9" y="463.3" width="3" height="3" fill="#1c9ef4"/>
<rect x="93.1" y="475.4" width="3" height="3" fill="#1c9ef4"/>
<rect x="89.9" y="480.5" width="3" height="3" fill="#1c9ef4"/>
<rect x="93.8" y="481.1" width="3" height="3" fill="#1c9ef4"/>
<rect x="97.6" y="486.2" width="3" height="3" fill="#1c9ef4"/>
<rect x="93.8" y="488.7" width="3" height="3" fill="#1c9ef4"/>
<rect x="87.4" y="493.2" width="3" height="3" fill="#1c9ef4"/>
<rect x="80.4" y="496.3" width="3" height="3" fill="#1c9ef4"/>
<rect x="91.2" y="494.5" width="3" height="3" fill="#1c9ef4"/>
<rect x="99.5" y="471.5" width="3" height="3" fill="#1c9ef4"/>
<rect x="100.7" y="465.8" width="3" height="3" fill="#1c9ef4"/>
<rect x="98.2" y="389.1" width="3" height="3" fill="#1c9ef4"/>
<rect x="102.9" y="387.0" width="3" height="3" fill="#1c9ef4"/>
<rect x="107.1" y="410.9" width="3" height="3" fill="#1c9ef4"/>
<rect x="104.9" y="415.1" width="3" height="3" fill="#1c9ef4"/>
<rect x="92.5" y="419.8" width="3" height="3" fill="#1c9ef4"/>
<rect x="100.7" y="423.2" width="3" height="3" fill="#1c9ef4"/>
<rect x="91.6" y="432.1" width="3" height="3" fill="#1c9ef4"/>
<rect x="73.5" y="500.5" width="3" height="3" fill="#1c9ef4"/>
<rect x="77.5" y="500.5" width="3" height="3" fill="#1c9ef4"/>
<rect x="82.5" y="500.5" width="3" height="3" fill="#1c9ef4"/>
<rect x="70.5" y="501.5" width="3" height="3" fill="#1c9ef4"/>
<rect x="84.5" y="498.5" width="3" height="3" fill="#1c9ef4"/>
<rect x="87.5" y="496.5" width="3" height="3" fill="#1c9ef4"/>
<rect x="145.4" y="422.0" width="3" height="3" fill="#1c9ef4"/>
<rect x="134.6" y="434.1" width="3" height="3" fill="#1c9ef4"/>
<rect x="140.4" y="439.2" width="3" height="3" fill="#1c9ef4"/>
<rect x="132.0" y="444.3" width="3" height="3" fill="#1c9ef4"/>
<rect x="138.1" y="452.6" width="3" height="3" fill="#1c9ef4"/>
<rect x="143.9" y="451.9" width="3" height="3" fill="#1c9ef4"/>
<rect x="136.9" y="456.4" width="3" height="3" fill="#1c9ef4"/>
<rect x="135.8" y="461.5" width="3" height="3" fill="#1c9ef4"/>
<rect x="136.9" y="465.3" width="3" height="3" fill="#1c9ef4"/>
<rect x="170.2" y="467.7" width="3" height="3" fill="#1c9ef4"/>
<rect x="136.0" y="461.7" width="3" height="3" fill="#1c9ef4"/>
<rect x="142.9" y="475.6" width="3" height="3" fill="#1c9ef4"/>
<rect x="148.9" y="483.0" width="3" height="3" fill="#1c9ef4"/>
<rect x="148.5" y="485.8" width="3" height="3" fill="#1c9ef4"/>
<rect x="151.2" y="493.6" width="3" height="3" fill="#1c9ef4"/>
<rect x="164.6" y="495.0" width="3" height="3" fill="#1c9ef4"/>
<rect x="163.2" y="499.6" width="3" height="3" fill="#1c9ef4"/>
<rect x="172.9" y="500.1" width="3" height="3" fill="#1c9ef4"/>
<rect x="144.8" y="489.5" width="3" height="3" fill="#1c9ef4"/>
<rect x="202.4" y="492.2" width="3" height="3" fill="#1c9ef4"/>
<rect x="184.0" y="498.5" width="3" height="3" fill="#1c9ef4"/>
<rect x="174.3" y="500.2" width="3" height="3" fill="#1c9ef4"/>
<rect x="176.3" y="500.6" width="3" height="3" fill="#1c9ef4"/>
<rect x="178.8" y="499.5" width="3" height="3" fill="#1c9ef4"/>
<rect x="175.6" y="501.9" width="3" height="3" fill="#1c9ef4"/>
<rect x="156.5" y="498.5" width="3" height="3" fill="#1c9ef4"/>
<rect x="159.5" y="500.5" width="3" height="3" fill="#1c9ef4"/>
<rect x="153.5" y="496.5" width="3" height="3" fill="#1c9ef4"/>
<rect x="166.5" y="501.5" width="3" height="3" fill="#1c9ef4"/>
<rect x="168.5" y="500.5" width="3" height="3" fill="#1c9ef4"/>
<rect x="96.1" y="487.6" width="3" height="3" fill="#1c9ef4"/>
<rect x="101.0" y="450.6" width="3" height="3" fill="#1c9ef4"/>
<rect x="110.0" y="441.4" width="3" height="3" fill="#1c9ef4"/>
<rect x="105.8" y="441.3" width="3" height="3" fill="#1c9ef4"/>
<rect x="95.9" y="481.6" width="3" height="3" fill="#1c9ef4"/>
<rect x="110.5" y="443.5" width="3" height="3" fill="#1c9ef4"/>
<rect x="101.1" y="455.7" width="3" height="3" fill="#1c9ef4"/>
<rect x="97.7" y="473.6" width="3" height="3" fill="#1c9ef4"/>
<rect x="108.8" y="441.0" width="3" height="3" fill="#1c9ef4"/>
<rect x="95.0" y="491.4" width="3" height="3" fill="#1c9ef4"/>
<rect x="94.0" y="492.5" width="3" height="3" fill="#1c9ef4"/>
<rect x="101.4" y="439.1" width="3" height="3" fill="#1c9ef4"/>
<rect x="113.0" y="475.9" width="3" height="3" fill="#1c9ef4"/>
<rect x="99.0" y="469.6" width="3" height="3" fill="#1c9ef4"/>
<rect x="99.5" y="483.5" width="3" height="3" fill="#1c9ef4"/>
<rect x="105.7" y="431.1" width="3" height="3" fill="#1c9ef4"/>
<rect x="96.4" y="491.5" width="3" height="3" fill="#1c9ef4"/>
<rect x="108.9" y="434.6" width="3" height="3" fill="#1c9ef4"/>
<rect x="102.1" y="460.0" width="3" height="3" fill="#1c9ef4"/>
<rect x="98.9" y="476.1" width="3" height="3" fill="#1c9ef4"/>
<rect x="89.5" y="498.4" width="3" height="3" fill="#1c9ef4"/>
<rect x="100.2" y="454.4" width="3" height="3" fill="#1c9ef4"/>
<rect x="102.5" y="460.6" width="3" height="3" fill="#1c9ef4"/>
<rect x="108.7" y="438.7" width="3" height="3" fill="#1c9ef4"/>
<rect x="100.8" y="476.7" width="3" height="3" fill="#1c9ef4"/>
<rect x="106.8" y="441.4" width="3" height="3" fill="#1c9ef4"/>
<rect x="90.9" y="499.2" width="3" height="3" fill="#1c9ef4"/>
<rect x="90.3" y="499.5" width="3" height="3" fill="#1c9ef4"/>
<rect x="101.2" y="462.0" width="3" height="3" fill="#1c9ef4"/>
<rect x="100.4" y="470.5" width="3" height="3" fill="#1c9ef4"/>
<rect x="106.1" y="438.2" width="3" height="3" fill="#1c9ef4"/>
<rect x="105.8" y="434.1" width="3" height="3" fill="#1c9ef4"/>
<rect x="97.8" y="475.3" width="3" height="3" fill="#1c9ef4"/>
<rect x="106.3" y="442.7" width="3" height="3" fill="#1c9ef4"/>
<rect x="104.1" y="441.5" width="3" height="3" fill="#1c9ef4"/>
<rect x="89.2" y="497.8" width="3" height="3" fill="#1c9ef4"/>
<rect x="111.4" y="441.4" width="3" height="3" fill="#1c9ef4"/>
<rect x="91.6" y="497.0" width="3" height="3" fill="#1c9ef4"/>
<rect x="112.6" y="463.7" width="3" height="3" fill="#1c9ef4"/>
<rect x="103.5" y="442.4" width="3" height="3" fill="#1c9ef4"/>
<rect x="100.3" y="450.4" width="3" height="3" fill="#1c9ef4"/>
<rect x="98.6" y="470.6" width="3" height="3" fill="#1c9ef4"/>
<rect x="110.1" y="435.1" width="3" height="3" fill="#1c9ef4"/>
<rect x="113.0" y="489.5" width="3" height="3" fill="#1c9ef4"/>
<rect x="99.2" y="475.2" width="3" height="3" fill="#1c9ef4"/>
<rect x="112.6" y="478.6" width="3" height="3" fill="#1c9ef4"/>
<rect x="103.2" y="442.6" width="3" height="3" fill="#1c9ef4"/>
<rect x="99.3" y="466.6" width="3" height="3" fill="#1c9ef4"/>
<rect x="98.4" y="474.5" width="3" height="3" fill="#1c9ef4"/>
<rect x="104.3" y="433.5" width="3" height="3" fill="#1c9ef4"/>
<rect x="108.7" y="436.3" width="3" height="3" fill="#1c9ef4"/>
<rect x="91.9" y="498.4" width="3" height="3" fill="#1c9ef4"/>
<rect x="89.3" y="500.3" width="3" height="3" fill="#1c9ef4"/>
<rect x="93.9" y="487.2" width="3" height="3" fill="#1c9ef4"/>
<rect x="94.4" y="495.6" width="3" height="3" fill="#1c9ef4"/>
<rect x="95.6" y="486.3" width="3" height="3" fill="#1c9ef4"/>
<rect x="113.1" y="498.5" width="3" height="3" fill="#1c9ef4"/>
<rect x="101.9" y="444.7" width="3" height="3" fill="#1c9ef4"/>
<rect x="109.4" y="441.8" width="3" height="3" fill="#1c9ef4"/>
<rect x="100.6" y="448.6" width="3" height="3" fill="#1c9ef4"/>
<rect x="106.1" y="433.6" width="3" height="3" fill="#1c9ef4"/>
<rect x="101.0" y="444.6" width="3" height="3" fill="#1c9ef4"/>
<rect x="97.7" y="486.9" width="3" height="3" fill="#1c9ef4"/>
<rect x="101.6" y="469.8" width="3" height="3" fill="#1c9ef4"/>
<rect x="103.4" y="434.0" width="3" height="3" fill="#1c9ef4"/>
<rect x="104.2" y="432.4" width="3" height="3" fill="#1c9ef4"/>
<rect x="92.3" y="498.5" width="3" height="3" fill="#1c9ef4"/>
<rect x="105.8" y="434.0" width="3" height="3" fill="#1c9ef4"/>
<rect x="96.1" y="487.1" width="3" height="3" fill="#1c9ef4"/>
<rect x="95.5" y="492.4" width="3" height="3" fill="#1c9ef4"/>
<rect x="112.7" y="500.4" width="3" height="3" fill="#1c9ef4"/>
<rect x="107.6" y="435.6" width="3" height="3" fill="#1c9ef4"/>
<rect x="95.4" y="489.3" width="3" height="3" fill="#1c9ef4"/>
<rect x="109.0" y="432.2" width="3" height="3" fill="#1c9ef4"/>
<rect x="101.7" y="463.8" width="3" height="3" fill="#1c9ef4"/>
<rect x="132.8" y="468.3" width="3" height="3" fill="#1c9ef4"/>
<rect x="130.2" y="463.6" width="3" height="3" fill="#1c9ef4"/>
<rect x="129.0" y="453.4" width="3" height="3" fill="#1c9ef4"/>
<rect x="151.3" y="495.5" width="3" height="3" fill="#1c9ef4"/>
<rect x="153.7" y="501.5" width="3" height="3" fill="#1c9ef4"/>
<rect x="128.9" y="451.5" width="3" height="3" fill="#1c9ef4"/>
<rect x="132.9" y="456.1" width="3" height="3" fill="#1c9ef4"/>
<rect x="131.9" y="463.9" width="3" height="3" fill="#1c9ef4"/>
<rect x="136.7" y="477.5" width="3" height="3" fill="#1c9ef4"/>
<rect x="138.4" y="481.0" width="3" height="3" fill="#1c9ef4"/>
<rect x="158.0" y="499.2" width="3" height="3" fill="#1c9ef4"/>
<rect x="154.8" y="501.2" width="3" height="3" fill="#1c9ef4"/>
<rect x="146.7" y="492.9" width="3" height="3" fill="#1c9ef4"/>
<rect x="131.9" y="454.8" width="3" height="3" fill="#1c9ef4"/>
<rect x="128.8" y="467.3" width="3" height="3" fill="#1c9ef4"/>
<rect x="145.4" y="488.9" width="3" height="3" fill="#1c9ef4"/>
<rect x="141.7" y="484.8" width="3" height="3" fill="#1c9ef4"/>
<rect x="158.7" y="501.2" width="3" height="3" fill="#1c9ef4"/>
<rect x="147.7" y="490.3" width="3" height="3" fill="#1c9ef4"/>
<rect x="135.1" y="472.2" width="3" height="3" fill="#1c9ef4"/>
<rect x="137.1" y="470.2" width="3" height="3" fill="#1c9ef4"/>
<rect x="134.5" y="468.8" width="3" height="3" fill="#1c9ef4"/>
<rect x="135.4" y="460.6" width="3" height="3" fill="#1c9ef4"/>
<rect x="133.8" y="451.9" width="3" height="3" fill="#1c9ef4"/>
<rect x="131.7" y="465.6" width="3" height="3" fill="#1c9ef4"/>
<rect x="131.9" y="454.9" width="3" height="3" fill="#1c9ef4"/>
<rect x="144.1" y="487.0" width="3" height="3" fill="#1c9ef4"/>
<rect x="131.5" y="467.7" width="3" height="3" fill="#1c9ef4"/>
<rect x="155.2" y="498.3" width="3" height="3" fill="#1c9ef4"/>
<rect x="143.6" y="488.3" width="3" height="3" fill="#1c9ef4"/>
<rect x="131.7" y="451.1" width="3" height="3" fill="#1c9ef4"/>
<rect x="154.9" y="496.1" width="3" height="3" fill="#1c9ef4"/>
<rect x="149.6" y="494.3" width="3" height="3" fill="#1c9ef4"/>
<rect x="128.7" y="479.1" width="3" height="3" fill="#1c9ef4"/>
<rect x="155.5" y="498.4" width="3" height="3" fill="#1c9ef4"/>
<rect x="136.1" y="468.6" width="3" height="3" fill="#1c9ef4"/>
<rect x="129.5" y="460.5" width="3" height="3" fill="#1c9ef4"/>
<rect x="153.8" y="498.5" width="3" height="3" fill="#1c9ef4"/>
<rect x="151.8" y="498.8" width="3" height="3" fill="#1c9ef4"/>
<rect x="152.2" y="496.3" width="3" height="3" fill="#1c9ef4"/>
<rect x="155.6" y="497.3" width="3" height="3" fill="#1c9ef4"/>
<rect x="151.3" y="496.3" width="3" height="3" fill="#1c9ef4"/>
<rect x="150.4" y="494.7" width="3" height="3" fill="#1c9ef4"/>
<rect x="138.0" y="476.4" width="3" height="3" fill="#1c9ef4"/>
<rect x="153.8" y="499.9" width="3" height="3" fill="#1c9ef4"/>
<circle cx="82.0" cy="470.4" r="1.4" fill="#f23a3a"/>
<circle cx="76.5" cy="501.4" r="1.4" fill="#f23a3a"/>
<circle cx="89.1" cy="477.0" r="1.4" fill="#f23a3a"/>
<circle cx="89.1" cy="484.4" r="1.4" fill="#f23a3a"/>
<circle cx="92.7" cy="460.3" r="1.4" fill="#f23a3a"/>
<circle cx="81.9" cy="470.3" r="1.4" fill="#f23a3a"/>
<circle cx="88.9" cy="476.9" r="1.4" fill="#f23a3a"/>
<circle cx="97.2" cy="475.6" r="1.4" fill="#f23a3a"/>
<circle cx="89.5" cy="484.5" r="1.4" fill="#f23a3a"/>
<circle cx="87.0" cy="503.0" r="1.4" fill="#f23a3a"/>
<circle cx="134.2" cy="464.6" r="1.4" fill="#f23a3a"/>
<circle cx="139.8" cy="462.8" r="1.4" fill="#f23a3a"/>
<circle cx="147.6" cy="468.8" r="1.4" fill="#f23a3a"/>
<circle cx="151.3" cy="468.3" r="1.4" fill="#f23a3a"/>
<circle cx="148.1" cy="470.2" r="1.4" fill="#f23a3a"/>
<circle cx="139.8" cy="472.5" r="1.4" fill="#f23a3a"/>
<circle cx="143.5" cy="479.4" r="1.4" fill="#f23a3a"/>
<circle cx="150.9" cy="477.1" r="1.4" fill="#f23a3a"/>
<circle cx="153.7" cy="477.1" r="1.4" fill="#f23a3a"/>
<circle cx="140.2" cy="484.5" r="1.4" fill="#f23a3a"/>
<circle cx="141.6" cy="485.0" r="1.4" fill="#f23a3a"/>
<circle cx="146.3" cy="486.8" r="1.4" fill="#f23a3a"/>
<circle cx="171.2" cy="491.4" r="1.4" fill="#f23a3a"/>
<circle cx="162.4" cy="497.4" r="1.4" fill="#f23a3a"/>
<circle cx="156.2" cy="366.2" r="1.4" fill="#f23a3a"/>
<circle cx="140.0" cy="462.6" r="1.4" fill="#f23a3a"/>
<circle cx="134.2" cy="464.9" r="1.4" fill="#f23a3a"/>
<circle cx="147.9" cy="468.7" r="1.4" fill="#f23a3a"/>
<circle cx="151.1" cy="468.7" r="1.4" fill="#f23a3a"/>
<circle cx="171.3" cy="491.0" r="1.4" fill="#f23a3a"/>
<circle cx="187.5" cy="502.3" r="1.4" fill="#f23a3a"/>
<circle cx="83.6" cy="488.8" r="1.4" fill="#f5880f"/>
<circle cx="78.8" cy="493.3" r="1.4" fill="#f5880f"/>
<circle cx="86.2" cy="496.2" r="1.4" fill="#f5880f"/>
<circle cx="83.8" cy="488.3" r="1.4" fill="#f5880f"/>
<circle cx="102.9" cy="487.0" r="1.4" fill="#f5880f"/>
<circle cx="86.4" cy="496.6" r="1.4" fill="#f5880f"/>
<circle cx="154.0" cy="459.4" r="1.4" fill="#f5880f"/>
<circle cx="144.4" cy="472.0" r="1.4" fill="#f5880f"/>
<circle cx="152.3" cy="478.5" r="1.4" fill="#f5880f"/>
<circle cx="150.9" cy="480.8" r="1.4" fill="#f5880f"/>
<circle cx="158.7" cy="491.4" r="1.4" fill="#f5880f"/>
<circle cx="156.4" cy="493.3" r="1.4" fill="#f5880f"/>
<circle cx="154.6" cy="493.3" r="1.4" fill="#f5880f"/>
<circle cx="160.6" cy="500.2" r="1.4" fill="#f5880f"/>
<circle cx="168.0" cy="499.3" r="1.4" fill="#f5880f"/>
<circle cx="172.1" cy="499.7" r="1.4" fill="#f5880f"/>
<circle cx="148.1" cy="503.0" r="1.4" fill="#f5880f"/>
<circle cx="147.2" cy="494.7" r="1.4" fill="#f5880f"/>
<circle cx="196.9" cy="497.2" r="1.4" fill="#f5880f"/>
<circle cx="195.9" cy="499.8" r="1.4" fill="#f5880f"/>
<circle cx="198.7" cy="501.0" r="1.4" fill="#f5880f"/>
<circle cx="193.0" cy="502.1" r="1.4" fill="#f5880f"/>
<circle cx="172.3" cy="499.8" r="1.4" fill="#f5880f"/>
<circle cx="157.0" cy="503.0" r="1.4" fill="#f5880f"/>
<circle cx="163.0" cy="504.0" r="1.4" fill="#f5880f"/>
<circle cx="139.0" cy="475.5" r="1.4" fill="#f5880f"/>
<circle cx="131.6" cy="494.6" r="1.4" fill="#f5880f"/>
<circle cx="152.6" cy="503.4" r="1.4" fill="#f23a3a"/>
<circle cx="135.1" cy="493.2" r="1.4" fill="#f5880f"/>
<circle cx="150.7" cy="493.3" r="1.4" fill="#f23a3a"/>
<circle cx="134.3" cy="481.2" r="1.4" fill="#f23a3a"/>
<circle cx="131.3" cy="500.8" r="1.4" fill="#f23a3a"/>
<circle cx="141.9" cy="496.2" r="1.4" fill="#f23a3a"/>
<circle cx="135.1" cy="498.3" r="1.4" fill="#f23a3a"/>
<circle cx="139.5" cy="496.9" r="1.4" fill="#f23a3a"/>
<circle cx="135.9" cy="481.6" r="1.4" fill="#f23a3a"/>
<circle cx="137.4" cy="481.0" r="1.4" fill="#f23a3a"/>
<circle cx="98.7" cy="503.7" r="1.4" fill="#f23a3a"/>
<circle cx="112.2" cy="473.3" r="1.4" fill="#f5880f"/>
<circle cx="111.5" cy="472.0" r="1.4" fill="#f23a3a"/>
<text x="107.5" y="459.2" font-family="Liberation Sans, sans-serif" font-weight="bold" font-size="10.3" fill="#111" text-anchor="end">5</text>
<line x1="122.3" y1="356.3" x2="122.3" y2="505.6" stroke="#111" stroke-width="1.5"/>
<line x1="11.2" y1="504.9" x2="233.6" y2="504.9" stroke="#111" stroke-width="1.5"/>
<rect x="166" y="395.2" width="2.8" height="2.8" fill="#1c9ef4"/>
<circle cx="167.4" cy="416.8" r="1.4" fill="#f5880f"/>
<circle cx="167.4" cy="436.7" r="1.4" fill="#f23a3a"/>
<text x="184.4" y="401.2" font-family="Liberation Sans, sans-serif" font-size="11.8" fill="#222">S450 vs S0</text>
<text x="184.4" y="421.2" font-family="Liberation Sans, sans-serif" font-size="11.8" fill="#222">R450 vs R0</text>
<text x="184.4" y="441.2" font-family="Liberation Sans, sans-serif" font-size="11.8" fill="#222">L450&#160; vs L0</text>
<text x="287.2" y="329.2" font-family="Liberation Serif, serif" font-weight="bold" font-size="15" fill="#000">D</text>
<rect x="340.1" y="352.9" width="32.2" height="59.2" fill="#fe1414"/>
<rect x="340.1" y="412.1" width="32.2" height="26.3" fill="#0f76b6"/>
<text x="356.2" y="351.3" font-family="Liberation Sans, sans-serif" font-weight="bold" font-size="5.6" fill="#222" text-anchor="middle">221</text>
<text x="356.2" y="444.4" font-family="Liberation Sans, sans-serif" font-weight="bold" font-size="5.6" fill="#222" text-anchor="middle">98</text>
<rect x="380.2" y="352.3" width="31.8" height="59.8" fill="#fe1414"/>
<rect x="380.2" y="412.1" width="31.8" height="93.5" fill="#0f76b6"/>
<text x="396.1" y="350.7" font-family="Liberation Sans, sans-serif" font-weight="bold" font-size="5.6" fill="#222" text-anchor="middle">223</text>
<text x="396.1" y="511.6" font-family="Liberation Sans, sans-serif" font-weight="bold" font-size="5.6" fill="#222" text-anchor="middle">349</text>
<rect x="420.2" y="370.8" width="31.6" height="41.3" fill="#fe1414"/>
<rect x="420.2" y="412.1" width="31.6" height="16.3" fill="#0f76b6"/>
<text x="436.0" y="369.2" font-family="Liberation Sans, sans-serif" font-weight="bold" font-size="5.6" fill="#222" text-anchor="middle">154</text>
<text x="436.0" y="434.4" font-family="Liberation Sans, sans-serif" font-weight="bold" font-size="5.6" fill="#222" text-anchor="middle">61</text>
<line x1="336.5" y1="331.6" x2="336.5" y2="519.5" stroke="#9a9a9a" stroke-width="0.9"/>
<line x1="336" y1="519.2" x2="476.2" y2="519.2" stroke="#9a9a9a" stroke-width="0.9"/>
<line x1="334.8" y1="331.7" x2="336.5" y2="331.7" stroke="#888" stroke-width="0.6"/>
<text x="335.2" y="333.5" font-family="Liberation Sans, sans-serif" font-weight="bold" font-size="5" fill="#333" text-anchor="end">300</text>
<line x1="334.8" y1="358.5" x2="336.5" y2="358.5" stroke="#888" stroke-width="0.6"/>
<text x="335.2" y="360.3" font-family="Liberation Sans, sans-serif" font-weight="bold" font-size="5" fill="#333" text-anchor="end">200</text>
<line x1="334.8" y1="385.3" x2="336.5" y2="385.3" stroke="#888" stroke-width="0.6"/>
<text x="335.2" y="387.1" font-family="Liberation Sans, sans-serif" font-weight="bold" font-size="5" fill="#333" text-anchor="end">100</text>
<line x1="334.8" y1="412.1" x2="336.5" y2="412.1" stroke="#888" stroke-width="0.6"/>
<text x="335.2" y="413.9" font-family="Liberation Sans, sans-serif" font-weight="bold" font-size="5" fill="#333" text-anchor="end">0</text>
<line x1="334.8" y1="438.9" x2="336.5" y2="438.9" stroke="#888" stroke-width="0.6"/>
<text x="335.2" y="440.7" font-family="Liberation Sans, sans-serif" font-weight="bold" font-size="5" fill="#333" text-anchor="end">100</text>
<line x1="334.8" y1="465.7" x2="336.5" y2="465.7" stroke="#888" stroke-width="0.6"/>
<text x="335.2" y="467.5" font-family="Liberation Sans, sans-serif" font-weight="bold" font-size="5" fill="#333" text-anchor="end">200</text>
<line x1="334.8" y1="492.5" x2="336.5" y2="492.5" stroke="#888" stroke-width="0.6"/>
<text x="335.2" y="494.3" font-family="Liberation Sans, sans-serif" font-weight="bold" font-size="5" fill="#333" text-anchor="end">300</text>
<line x1="334.8" y1="519.3" x2="336.5" y2="519.3" stroke="#888" stroke-width="0.6"/>
<text x="335.2" y="521.1" font-family="Liberation Sans, sans-serif" font-weight="bold" font-size="5" fill="#333" text-anchor="end">400</text>
<line x1="357.2" y1="519.2" x2="357.2" y2="520.8" stroke="#888" stroke-width="0.6"/>
<text transform="translate(359.2,524) rotate(-45)" font-family="Liberation Sans, sans-serif" font-weight="bold" font-size="5" fill="#333" text-anchor="end">L450 vs L0</text>
<line x1="397.1" y1="519.2" x2="397.1" y2="520.8" stroke="#888" stroke-width="0.6"/>
<text transform="translate(399.1,524) rotate(-45)" font-family="Liberation Sans, sans-serif" font-weight="bold" font-size="5" fill="#333" text-anchor="end">S450 vs S0</text>
<line x1="437.0" y1="519.2" x2="437.0" y2="520.8" stroke="#888" stroke-width="0.6"/>
<text transform="translate(439.0,524) rotate(-45)" font-family="Liberation Sans, sans-serif" font-weight="bold" font-size="5" fill="#333" text-anchor="end">R450 vs R0</text>
<rect x="431.8" y="463.9" width="6.6" height="4.4" fill="#fe1414"/>
<rect x="431.8" y="470.1" width="6.6" height="4.4" fill="#0f76b6"/>
<text x="438.7" y="468.4" font-family="Liberation Sans, sans-serif" font-size="5.2" fill="#000" stroke="#000" stroke-width="0.12">Up-regulated</text>
<text x="438.7" y="474.6" font-family="Liberation Sans, sans-serif" font-size="5.2" fill="#000" stroke="#000" stroke-width="0.12">Down-regulated</text>
</svg></body></html>
